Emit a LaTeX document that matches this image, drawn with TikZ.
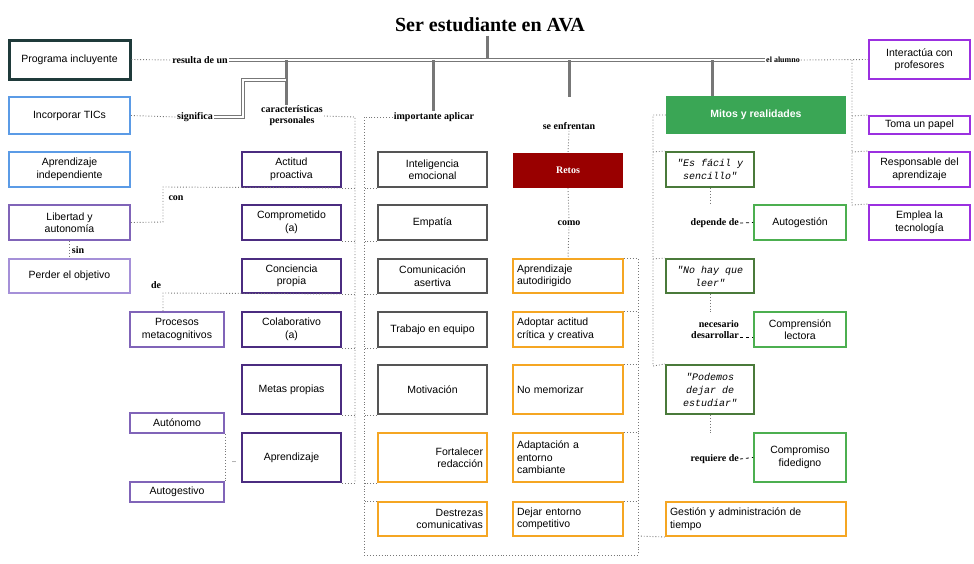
\documentclass[tikz,border=0pt]{standalone}
\usepackage{fontspec}
\setmainfont{Liberation Serif}
\newfontfamily\hand{Liberation Sans}
\newfontfamily\mono{Liberation Mono}
\usetikzlibrary{calc}
\definecolor{cDark}{HTML}{1F3A3A}
\definecolor{cBlue}{HTML}{5B9BE6}
\definecolor{cPurA}{HTML}{8064B8}
\definecolor{cPurL}{HTML}{A590D8}
\definecolor{cPurD}{HTML}{4B2C80}
\definecolor{cGray}{HTML}{555555}
\definecolor{cOr}{HTML}{F5A623}
\definecolor{cRed}{HTML}{990000}
\definecolor{cGrF}{HTML}{3AA655}
\definecolor{cGrD}{HTML}{4A7A3A}
\definecolor{cGrL}{HTML}{4CAF50}
\definecolor{cVio}{HTML}{9B30E0}
\definecolor{cLine}{HTML}{777777}
\tikzset{
  box/.style={draw=#1,line width=2pt,fill=white,inner sep=2pt,align=center,font=\hand\fontsize{10.5}{12.5}\selectfont},
  lbl/.style={font=\bfseries\fontsize{10}{11}\selectfont,align=center,inner sep=1pt},
  dot/.style={draw=cLine,dotted,line width=0.9pt},
  dsh/.style={draw=black,dash pattern=on 3pt off 3pt,line width=0.8pt},
  dbl/.style={draw=cLine,double=white,double distance=1.6pt,line width=1pt},
  vbar/.style={draw=cLine,line width=3pt},
}
% \bx{name}{x1}{y1}{x2}{y2}{style}{text}
\newcommand\bx[7]{\node[box=#6,minimum width=#4pt-#2pt,minimum height=#5pt-#3pt] (#1) at ({(#2+#4)/2},{(#3+#5)/2}) {#7};}
\begin{document}
\hyphenpenalty=10000 \exhyphenpenalty=10000
\begin{tikzpicture}[x=1pt,y=-1pt]
\useasboundingbox (0,0) rectangle (974,563);
\node[font=\bfseries\fontsize{20}{22}\selectfont] (title) at (490,25) {Ser estudiante en AVA};
% left
\node[box=cDark,line width=3pt,minimum width=121pt,minimum height=39pt] (prog) at (69.5,59.5) {Programa incluyente};
\bx{tics}{9}{97}{130}{134}{cBlue}{Incorporar TICs}
\bx{aind}{9}{152}{130}{187}{cBlue}{Aprendizaje\\independiente}
\bx{lib}{9}{205}{130}{240}{cPurA}{Libertad y\\autonomía}
\bx{perd}{9}{259}{130}{293}{cPurL}{Perder el objetivo}
\bx{proc}{130}{312}{224}{347}{cPurA}{Procesos\\metacognitivos}
\bx{auto}{130}{413}{224}{433}{cPurA}{Autónomo}
\bx{autg}{130}{482}{224}{502}{cPurA}{Autogestivo}
% column 2
\bx{act}{242}{152}{341}{187}{cPurD}{Actitud\\proactiva}
\bx{comp}{242}{205}{341}{240}{cPurD}{Comprometido\\(a)}
\bx{conc}{242}{259}{341}{293}{cPurD}{Conciencia\\propia}
\bx{cola}{242}{312}{341}{347}{cPurD}{Colaborativo\\(a)}
\bx{meta}{242}{365}{341}{414}{cPurD}{Metas propias}
\bx{apre}{242}{433}{341}{482}{cPurD}{Aprendizaje}
% column 3
\bx{inte}{378}{152}{487}{187}{cGray}{Inteligencia\\emocional}
\bx{empa}{378}{205}{487}{240}{cGray}{Empatía}
\bx{comu}{378}{259}{487}{293}{cGray}{Comunicación\\asertiva}
\bx{trab}{378}{312}{487}{347}{cGray}{Trabajo en equipo}
\bx{moti}{378}{365}{487}{414}{cGray}{Motivación}
\node[box=cOr,minimum width=109pt,minimum height=49pt,text width=101pt,align=right] (fort) at (432.5,457.5) {Fortalecer\\redacción};
\node[box=cOr,minimum width=109pt,minimum height=34pt,text width=101pt,align=right] (dest) at (432.5,519) {Destrezas\\comunicativas};
% column 4
\node[fill=cRed,minimum width=110pt,minimum height=35pt,text=white,font=\bfseries\fontsize{10}{11}\selectfont] (retos) at (568,170.5) {Retos};
\tikzset{obox/.style={box=cOr,text width=102pt,align=left}}
\node[obox,minimum width=110pt,minimum height=34pt] (aaut) at (568,276) {Aprendizaje\\autodirigido};
\node[obox,minimum width=110pt,minimum height=35pt] (adop) at (568,329.5) {Adoptar actitud\\crítica y creativa};
\node[obox,minimum width=110pt,minimum height=49pt] (nome) at (568,389.5) {No memorizar};
\node[obox,minimum width=110pt,minimum height=49pt] (adap) at (568,457.5) {Adaptación a\\entorno\\cambiante};
\node[obox,minimum width=110pt,minimum height=34pt] (deja) at (568,519) {Dejar entorno\\competitivo};
% column 5
\node[fill=cGrF,minimum width=180pt,minimum height=38pt,text=white,font=\hand\bfseries\fontsize{10.5}{12}\selectfont] (mitos) at (756,115) {Mitos y realidades};
\tikzset{qbox/.style={box=cGrD,font=\mono\itshape\fontsize{10}{13}\selectfont}}
\node[qbox,minimum width=88pt,minimum height=35pt] (facil) at (710,169.5) {"Es fácil y\\sencillo"};
\node[qbox,minimum width=88pt,minimum height=34pt] (leer) at (710,276) {"No hay que\\leer"};
\node[qbox,minimum width=88pt,minimum height=49pt] (pode) at (710,389.5) {"Podemos\\dejar de\\estudiar"};
\node[box=cOr,minimum width=180pt,minimum height=34pt,text width=172pt,align=left] (gest) at (756,519) {Gestión y administración de\\tiempo};
\bx{autges}{754}{205}{846}{240}{cGrL}{Autogestión}
\bx{comle}{754}{312}{846}{347}{cGrL}{Comprensión\\lectora}
\bx{compf}{754}{433}{846}{482}{cGrL}{Compromiso\\fidedigno}
% right
\bx{inter}{869}{40}{970}{79}{cVio}{Interactúa con\\profesores}
\bx{toma}{869}{116}{970}{134}{cVio}{Toma un papel}
\bx{resp}{869}{152}{970}{187}{cVio}{Responsable del\\aprendizaje}
\bx{empl}{869}{205}{970}{240}{cVio}{Emplea la\\tecnología}
% labels
\node[lbl] (lres) at (200,60) {resulta de un};
\node[lbl] (lsig) at (195,117) {significa};
\node[lbl] (lcar) at (292,116) {características\\personales};
\node[lbl] (limp) at (434,117) {importante aplicar};
\node[lbl] (lenf) at (569,126) {se enfrentan};
\node[lbl,font=\bfseries\fontsize{8}{9}\selectfont] (lalu) at (783,60) {el alumno};
\node[lbl] (lcon) at (176,198) {con};
\node[lbl] (lsin) at (78,250) {sin};
\node[lbl] (lde) at (156,285) {de};
\node[lbl] (lcomo) at (569,223) {como};
\node[lbl,anchor=east] (ldep) at (740,223) {depende de};
\node[lbl,anchor=east,align=right] (lnec) at (740,330) {necesario\\desarrollar};
\node[lbl,anchor=east] (lreq) at (740,459) {requiere de};
\coordinate (dd) at (234,462);
\coordinate (necend) at (740,337);
\node[font=\fontsize{8}{8}\selectfont,inner sep=0] at (dd) {..};
% double lines
\draw[vbar] (487,0|-title.south) -- (487,60);
\draw[dbl] (lres.east) -- (lalu.west);
\draw[vbar] (286,60) -- (286,0|-lcar.north);
\draw[vbar] (433,60) -- (433,0|-limp.north);
\draw[vbar] (569,60) -- (569,97);
\draw[vbar] (712,60) -- (712,0|-mitos.north);
\draw[dbl] (lsig.east) -- (243,117) -- (243,80) -- (286,80);
% dotted
\draw[dot] (prog.east) -- (lres.west);
\draw[dot] (tics.east) -- (lsig.west);
\draw[dot] (lcar.east) -- (355,117) -- (355,482);
\foreach \n in {act,comp,conc,cola,meta,apre} \draw[dot] (\n.south east) -- (355,0|-\n.south east);
\draw[dot] (limp.west) -- (364,117) -- (364,555) -- (638,555) -- (638,259);
\foreach \n in {inte,empa,comu,trab,moti} \draw[dot] (\n.south west) -- (364,0|-\n.south west);
\draw[dot] (fort.south west) -- (364,0|-fort.south west);
\draw[dot] (dest.north west) -- (364,0|-dest.north west);
\foreach \n in {aaut,adop,nome,adap,deja} \draw[dot] (\n.north east) -- (638,0|-\n.north east);
\draw[dot] (638,536) -- (gest.south west);
\draw[dot] (lenf.south) -- (retos.north);
\draw[dot] (retos.south) -- (lcomo.north);
\draw[dot] (lcomo.south) -- (aaut.north);
\draw[dot] (mitos.west) -- (653,115) -- (653,366) -- (pode.north west);
\draw[dot] (653,152) -- (facil.north west);
\draw[dot] (653,259) -- (leer.north west);
\draw[dot] (facil.south) -- (710,205);
\draw[dot] (leer.south) -- (710,313);
\draw[dot] (pode.south) -- (710,434);
\draw[dsh] (ldep.east) -- (autges.west);
\draw[dsh] (necend) -- (comle.west |- necend);
\draw[dsh] (lreq.east) -- (compf.west);
\draw[dot] (lalu.east) -- (inter.west);
\draw[dot] (852,60) -- (852,205) -- (empl.north west);
\draw[dot] (852,116) -- (toma.north west);
\draw[dot] (852,152) -- (resp.north west);
\draw[dot] (lib.east) -- (163,222) -- (163,187) -- (act.south east);
\draw[dot] (lib.south) -- (perd.north);
\draw[dot] (163,0|-proc.north) -- (163,293) -- (conc.south east);
\draw[dot] (auto.south east) -- (autg.north east);
\end{tikzpicture}
\end{document}
